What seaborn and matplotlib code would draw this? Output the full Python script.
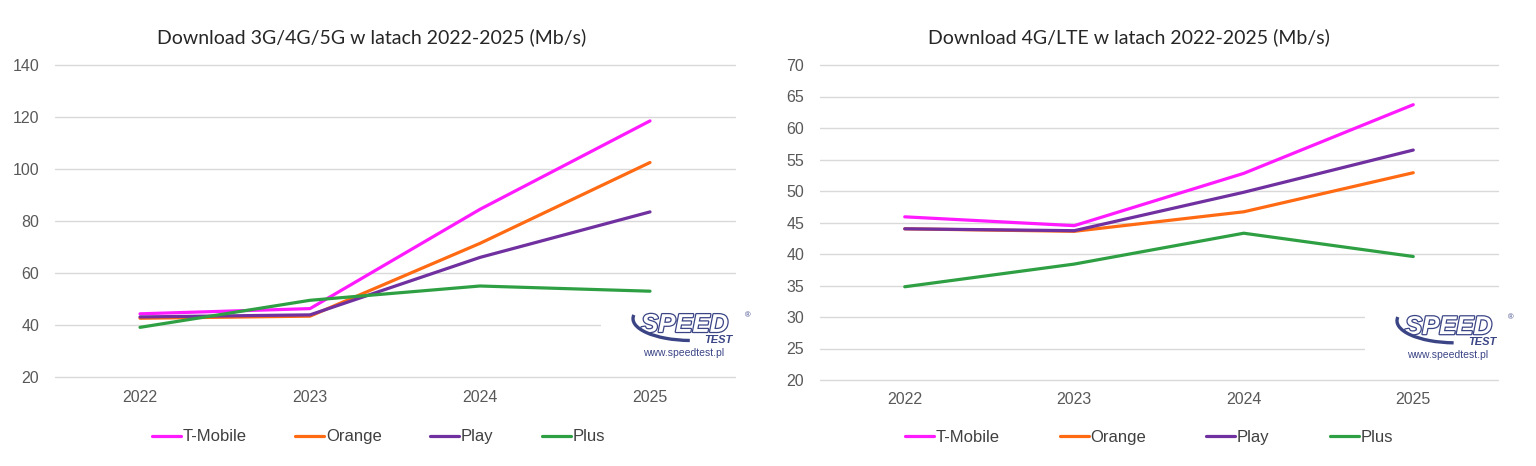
import numpy as np
import pandas as pd
import matplotlib
matplotlib.use("Agg")
import matplotlib.pyplot as plt
import matplotlib.patheffects as pe
from matplotlib.patches import Arc
import seaborn as sns

years = ["2022", "2023", "2024", "2025"]
operators = ["T-Mobile", "Orange", "Play", "Plus"]

# Download 3G/4G/5G (Mb/s)
all_tmobile = [44.3, 46.3, 84.5, 118.5]
all_orange = [42.6, 43.4, 71.4, 102.5]
all_play = [43.1, 43.9, 66.0, 83.5]
all_plus = [39.1, 49.5, 55.0, 53.0]

# Download 4G/LTE (Mb/s)
lte_tmobile = [45.9, 44.5, 52.8, 63.7]
lte_orange = [44.0, 43.6, 46.7, 52.9]
lte_play = [44.0, 43.7, 49.8, 56.5]
lte_plus = [34.8, 38.4, 43.3, 39.6]

titles = ["Download 3G/4G/5G w latach 2022-2025 (Mb/s)",
          "Download 4G/LTE w latach 2022-2025 (Mb/s)"]
left_ticks = [20, 40, 60, 80, 100, 120, 140]
right_ticks = [20, 25, 30, 35, 40, 45, 50, 55, 60, 65, 70]

colors = {"T-Mobile": "#FF1AFF", "Orange": "#FF6A13", "Play": "#7030A0", "Plus": "#2EA043"}
navy = "#3B4586"


def long_df(series):
    rows = []
    for op, vals in zip(operators, series):
        for i, v in enumerate(vals):
            rows.append({"pos": i, "Operator": op, "value": v})
    return pd.DataFrame(rows)


sns.set_theme(style="white")
plt.rcParams["font.family"] = ["Liberation Sans", "DejaVu Sans"]

fig = plt.figure(figsize=(15.36, 4.66), dpi=100)
ax1 = fig.add_axes([55 / 1536, 1 - 377 / 466, 680 / 1536, 312 / 466])
ax2 = fig.add_axes([820 / 1536, 1 - 380 / 466, 678 / 1536, 315 / 466])

datasets = [
    (ax1, [all_tmobile, all_orange, all_play, all_plus], left_ticks,
     0.465, (0.476, -0.192), 2.9),
    (ax2, [lte_tmobile, lte_orange, lte_play, lte_plus], right_ticks,
     0.456, (0.485, -0.181), 3.6),
]

for k, (ax, series, yt, tx, lpos, cspace) in enumerate(datasets):
    df = long_df(series)
    sns.lineplot(data=df, x="pos", y="value", hue="Operator", hue_order=operators,
                 palette=colors, linewidth=2.3, ax=ax, legend=False, zorder=3)
    ax.set_xlim(-0.5, 3.5)
    ax.set_ylim(yt[0], yt[-1])
    ax.set_yticks(yt)
    ax.set_yticklabels([str(t) for t in yt])
    ax.set_xticks(range(len(years)))
    ax.set_xticklabels(years)
    ax.set_xlabel("")
    ax.set_ylabel("")
    for s in ax.spines.values():
        s.set_visible(False)
    ax.grid(axis="y", color="#D9D9D9", linewidth=1.0, zorder=0)
    ax.grid(axis="x", visible=False)
    for gl in ax.get_ygridlines():
        gl.set_clip_on(False)
    ax.tick_params(axis="both", length=0, labelsize=11.5, colors="#595959")
    ax.tick_params(axis="y", pad=11.5)
    ax.tick_params(axis="x", pad=9)
    ttl = ax.set_title(titles[k], fontsize=14, color="#262626",
                       family=["Lato", "DejaVu Sans"], pad=16)
    ttl.set_x(tx)

    # legend
    handles = [plt.Line2D([0], [0], color=colors[o], lw=2.3) for o in operators]
    leg = ax.legend(handles, operators, loc="center",
                    bbox_to_anchor=lpos, ncol=4, frameon=False,
                    fontsize=12, handlelength=1.75, handletextpad=0.1,
                    columnspacing=cspace)
    for t in leg.get_texts():
        t.set_color("#404040")

    # speedtest logo
    lx, ly = (0.926, 0.167) if k == 0 else (0.927, 0.168)
    ax.text(lx - 0.005, ly - 0.03, " " * 30, transform=ax.transAxes, ha="center",
            va="center", fontsize=10, zorder=4,
            bbox=dict(boxstyle="square,pad=1.6", fc="white", ec="none"))
    ax.text(lx, ly, "SPEED", transform=ax.transAxes, ha="center", va="center",
            fontsize=18.5, fontstyle="italic", fontweight="bold", color="white",
            family=["Liberation Sans"], zorder=6,
            path_effects=[pe.withStroke(linewidth=1.8, foreground=navy)])
    ax.text(lx + 0.05, ly - 0.047, "TEST", transform=ax.transAxes, ha="center",
            va="center", fontsize=8, fontstyle="italic", fontweight="bold",
            color=navy, family=["Liberation Sans"], zorder=6)
    ax.text(lx + 0.092, ly + 0.03, "®", transform=ax.transAxes, ha="center",
            va="center", fontsize=5.5, color=navy, zorder=6)
    ax.text(lx - 0.002, ly - 0.09, "www.speedtest.pl", transform=ax.transAxes,
            ha="center", va="center", fontsize=7.5, color=navy, zorder=6)
    arc = Arc((lx + 0.01, ly + 0.02), 0.172, 0.14, theta1=172, theta2=268,
              transform=ax.transAxes, color=navy, lw=2.4, zorder=7)
    ax.add_patch(arc)

fig.savefig("out.png", dpi=100, facecolor="white")
